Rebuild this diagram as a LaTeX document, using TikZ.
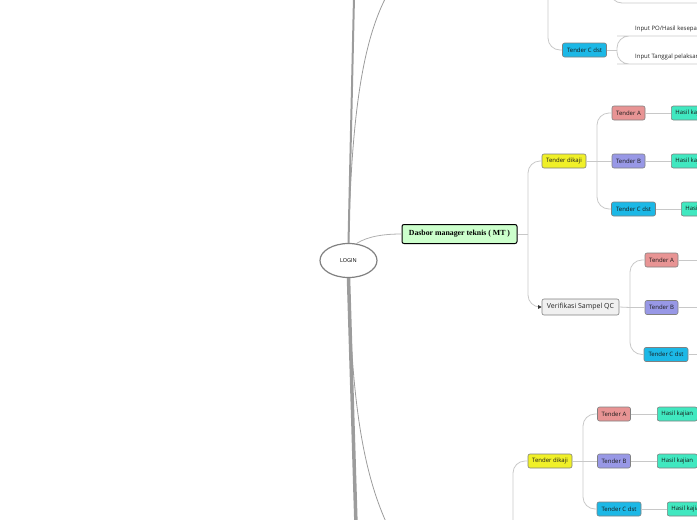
\documentclass[tikz,border=0pt]{standalone}
\usepackage{fontspec}
\newfontfamily\osans{Open Sans}
\newfontfamily\tserif{Liberation Serif}
\usetikzlibrary{arrows.meta,shapes.geometric}
\definecolor{cyel}{HTML}{F0F028}
\definecolor{cred}{HTML}{E89494}
\definecolor{cblu}{HTML}{9898E6}
\definecolor{ccya}{HTML}{1CB8E6}
\definecolor{cteal}{HTML}{40E8C0}
\definecolor{cgrn}{HTML}{CCFFCC}
\definecolor{cgry}{HTML}{F0F0F0}
\definecolor{lgray}{HTML}{C8C8C8}
\definecolor{bgray}{HTML}{808080}
\definecolor{trunkc}{HTML}{9C9C9C}
\begin{document}
\begin{tikzpicture}[x=1pt,y=-1pt,
  conn/.style={draw=lgray,line width=0.8pt,rounded corners=12pt},
  tbox/.style={draw=bgray,line width=0.6pt,rounded corners=2pt,minimum height=14pt,
    inner xsep=3pt,inner ysep=0pt,font=\osans\fontsize{6}{7}\selectfont,text=black!90},
  tnarrow/.style={tbox,minimum width=33pt},
  twide/.style={tbox,minimum width=44pt},
  hbox/.style={tbox,fill=cteal,minimum width=40pt,anchor=west},
  intext/.style={anchor=south west,inner xsep=6pt,inner ysep=3.5pt,font=\osans\fontsize{6}{7}\selectfont,text=black!85}]
\useasboundingbox (0,0) rectangle (697,520);
\clip (0,0) rectangle (697,520);

% coordinates of junctions and off-picture ends
\coordinate (top) at (354,-3);
\coordinate (bot) at (356,525);
\coordinate (topthin) at (400,-25);
\coordinate (botthin) at (395,540);
\coordinate (jmt) at (528,234);
\coordinate (j1) at (597,161);
\coordinate (j2) at (630,307.5);
\coordinate (j3) at (583,461);
\coordinate (j0) at (617,50);
\coordinate (up0) at (548,-10);
\coordinate (up1) at (610,-10);
\coordinate (up1e) at (710,3);
\coordinate (dn3) at (513,530);
\coordinate (ta2o) at (710,260);
\coordinate (tb2o) at (710,307.5);
\coordinate (tc2o) at (710,354.5);

% nodes
\node[ellipse,draw=bgray,line width=1.2pt,minimum width=57pt,minimum height=34pt,inner sep=0pt,
  font=\osans\fontsize{5.5}{6}\selectfont] (login) at (348.5,260.5) {LOGIN};
\node[draw=black,line width=1pt,fill=cgrn,rounded corners=2pt,minimum width=115pt,minimum height=19pt,
  inner sep=0pt,font=\tserif\bfseries\fontsize{7.8}{8}\selectfont] (mt) at (459.5,234) {Dasbor manager teknis ( MT )};

\node[twide,fill=cyel] (td1) at (564,161) {Tender dikaji};
\node[tnarrow,fill=cred] (ta1) at (628.5,113) {Tender A};
\node[tnarrow,fill=cblu] (tb1) at (628.5,161) {Tender B};
\node[twide,fill=ccya] (tc1) at (633.5,209) {Tender C dst};
\node[hbox] (ha1) at (671,113) {Hasil kajian};
\node[hbox] (hb1) at (671,161) {Hasil kajian};
\node[hbox] (hc1) at (681,209) {Hasil kajian};

\node[draw=bgray,line width=0.6pt,fill=cgry,rounded corners=2pt,minimum width=77pt,minimum height=16pt,
  inner sep=0pt,font=\osans\fontsize{7}{8}\selectfont,text=black!85] (vq) at (580.5,307) {Verifikasi Sampel QC};
\node[tnarrow,fill=cred] (ta2) at (661.5,260) {Tender A};
\node[tnarrow,fill=cblu] (tb2) at (661.5,307.5) {Tender B};
\node[twide,fill=ccya] (tc2) at (666,354.5) {Tender C dst};

\node[twide,fill=cyel] (td3) at (550,461) {Tender dikaji};
\node[tnarrow,fill=cred] (ta3) at (614,414) {Tender A};
\node[tnarrow,fill=cblu] (tb3) at (614,461) {Tender B};
\node[twide,fill=ccya] (tc3) at (619,509) {Tender C dst};
\node[hbox] (ha3) at (657,414) {Hasil kajian};
\node[hbox] (hb3) at (657,461) {Hasil kajian};
\node[hbox] (hc3) at (667,509) {Hasil kajian};

\node[twide,fill=ccya] (tc0) at (584.5,50) {Tender C dst};
\node[intext] (inpo) at (629,36) {Input PO/Hasil kesepakatan};
\node[intext] (intgl) at (629,64) {Input Tanggal pelaksanaan};

% trunk lines from LOGIN
\draw[trunkc,line width=2pt] (login.north) -- (top);
\draw[trunkc,line width=3.5pt] (login.south) -- (bot);
\draw[draw=trunkc,line width=0.8pt] (login.north) .. controls (352,100) and (365,20) .. (topthin);
\draw[draw=trunkc,line width=0.8pt] (login.south) .. controls (352,400) and (362,480) .. (botthin);
\draw[draw=trunkc!80,line width=0.8pt] (login.65) .. controls (368,236) and (385,234) .. (mt.west);

% Dasbor MT branches
\draw[conn] (mt.east) -- (jmt);
\draw[conn] (jmt) |- (td1.west);
\draw[conn,-{Triangle[length=3.5pt,width=3.5pt,color=black!80]}] (jmt) |- (vq.west);

% group 1
\draw[conn] (td1.east) -- (j1);
\draw[conn] (j1) |- (ta1.west);
\draw[conn] (j1) -- (tb1.west);
\draw[conn] (j1) |- (tc1.west);
\draw[conn] (ta1.east) -- (ha1.west);
\draw[conn] (tb1.east) -- (hb1.west);
\draw[conn] (tc1.east) -- (hc1.west);

% group 2
\draw[conn] (vq.east) -- (j2);
\draw[conn] (j2) |- (ta2.west);
\draw[conn] (j2) -- (tb2.west);
\draw[conn] (j2) |- (tc2.west);
\draw[conn] (ta2.east) -- (ta2o);
\draw[conn] (tb2.east) -- (tb2o);
\draw[conn] (tc2.east) -- (tc2o);

% group 3
\draw[conn] (dn3) |- (td3.west);
\draw[conn] (td3.east) -- (j3);
\draw[conn] (j3) |- (ta3.west);
\draw[conn] (j3) -- (tb3.west);
\draw[conn] (j3) |- (tc3.west);
\draw[conn] (ta3.east) -- (ha3.west);
\draw[conn] (tb3.east) -- (hb3.west);
\draw[conn] (tc3.east) -- (hc3.west);

% top group
\draw[conn] (up0) |- (tc0.west);
\draw[conn] (up1) |- (up1e);
\draw[conn] (tc0.east) -- (j0);
\draw[conn] (j0) |- (inpo.south west) -- (inpo.south east);
\draw[conn] (j0) |- (intgl.south west) -- (intgl.south east);
\end{tikzpicture}
\end{document}
